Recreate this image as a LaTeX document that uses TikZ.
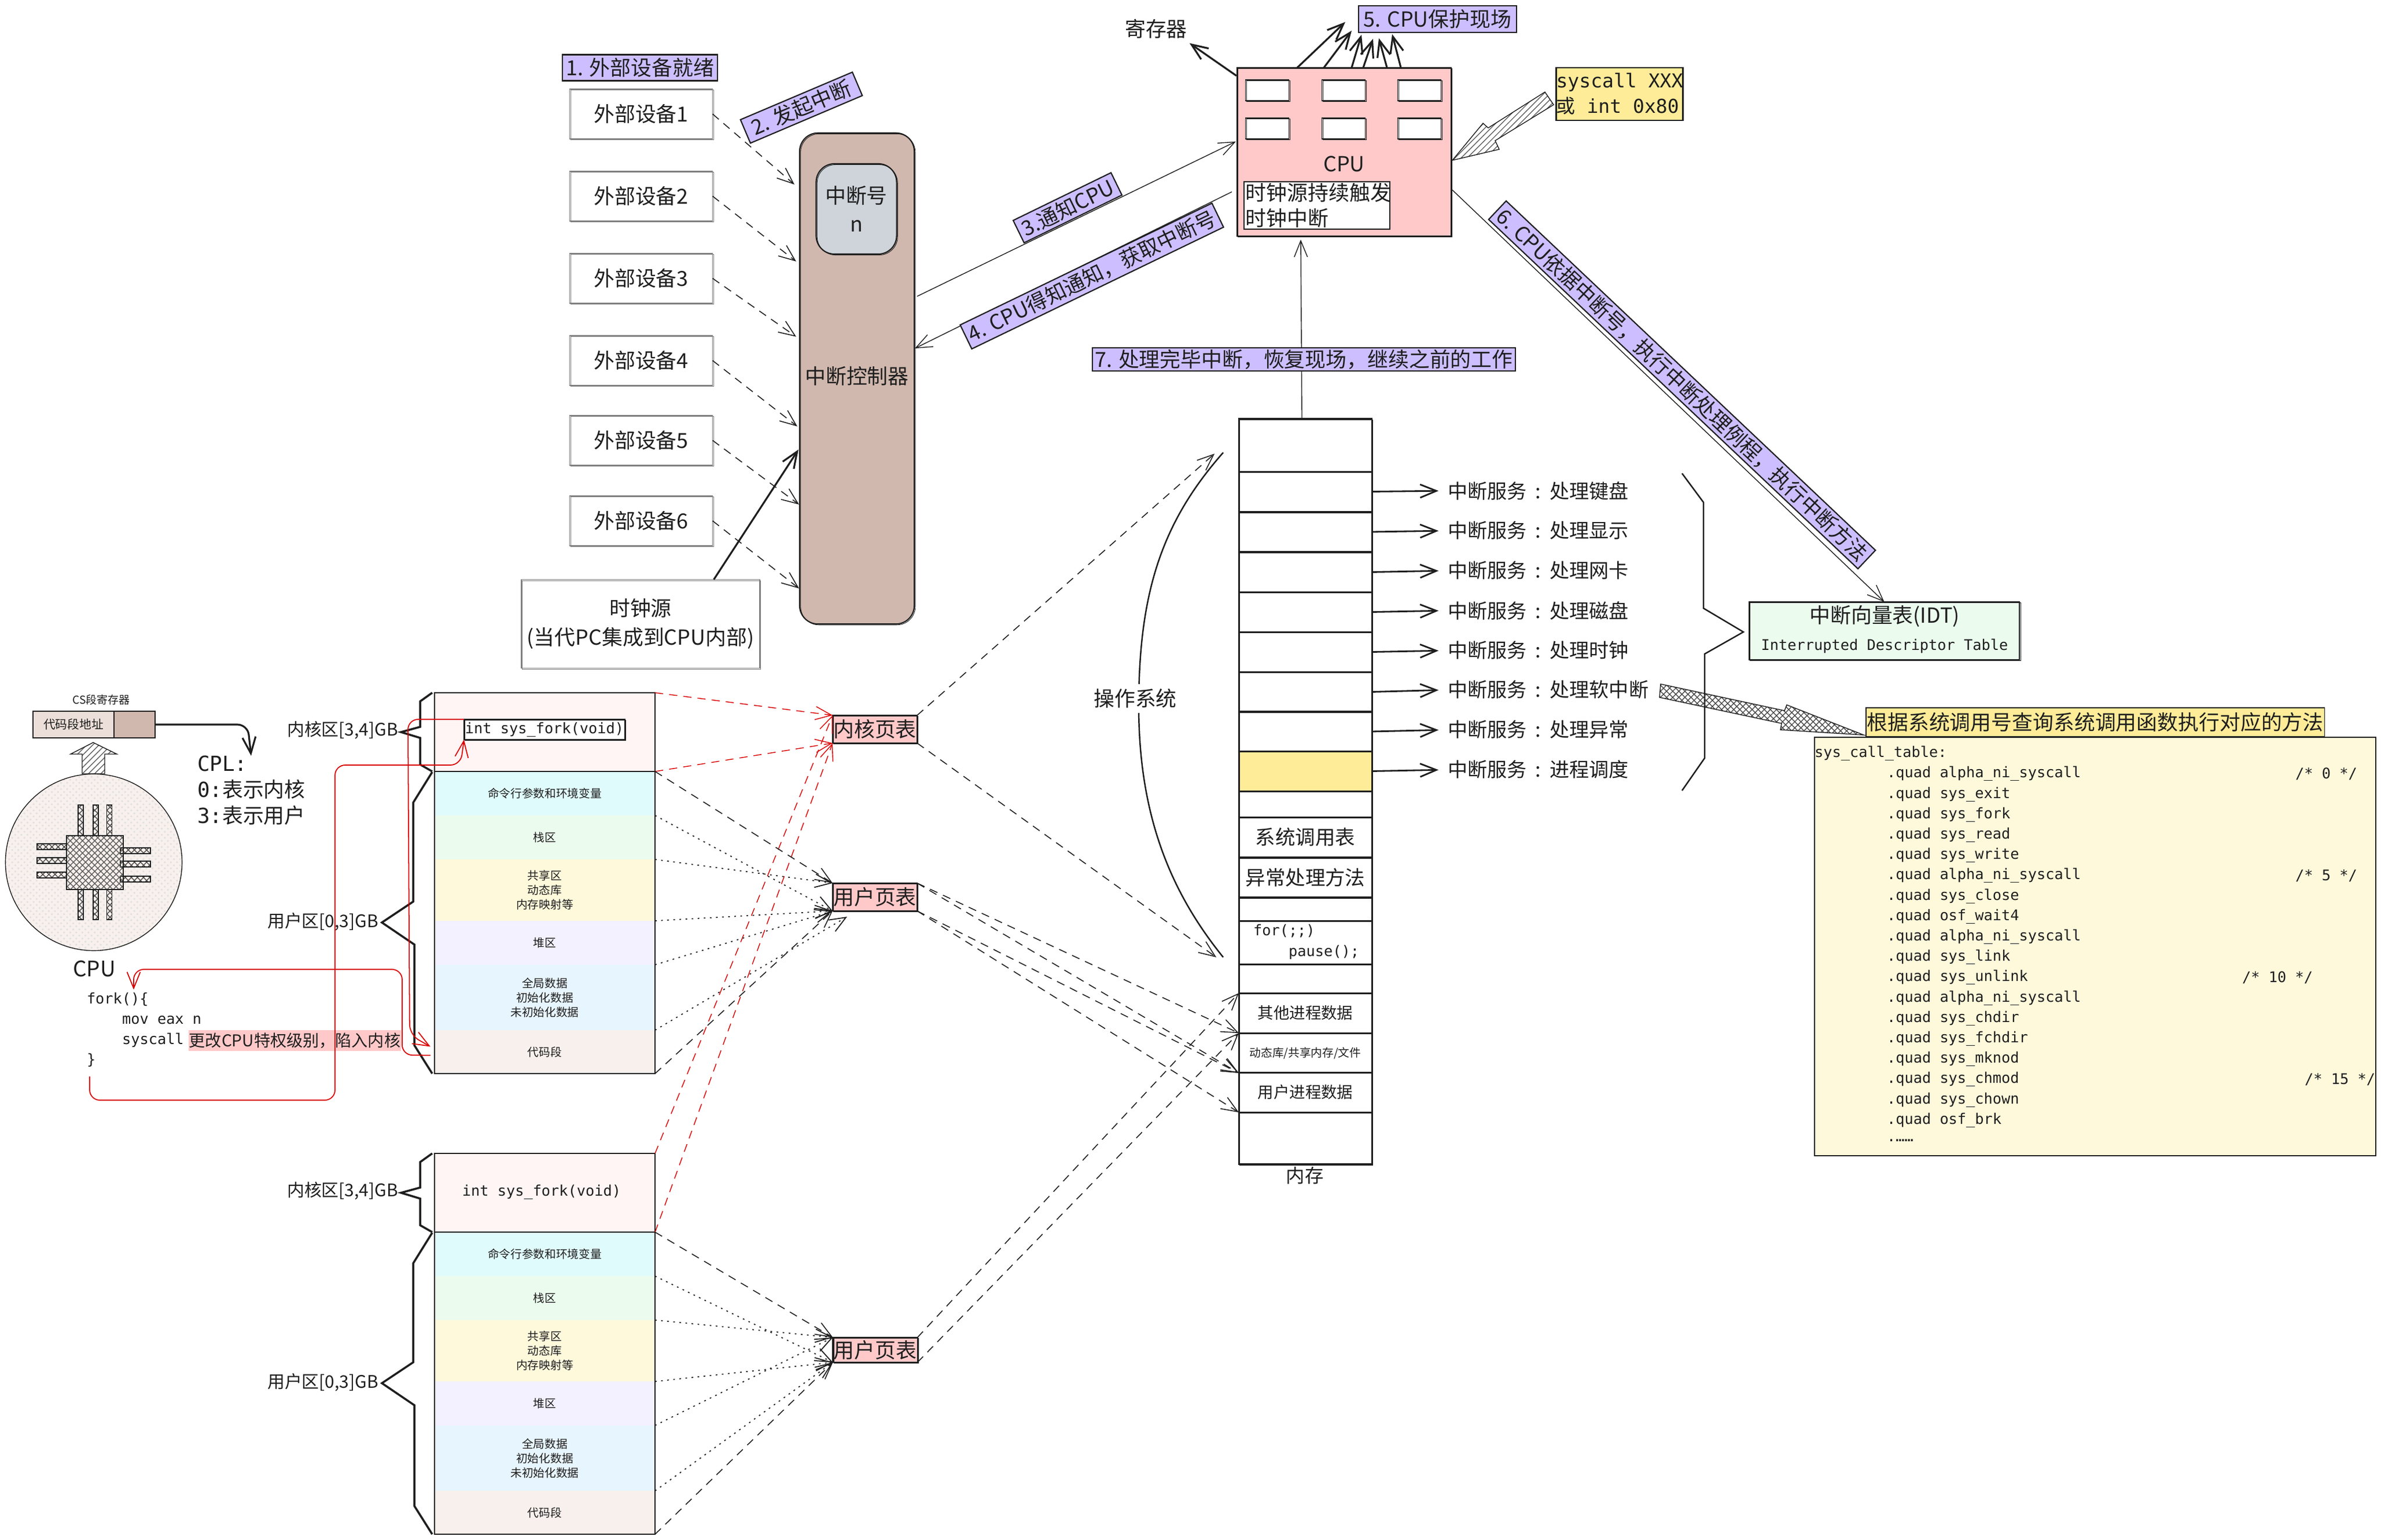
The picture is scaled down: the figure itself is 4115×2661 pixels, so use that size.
\documentclass[tikz,border=0pt]{standalone}
\usepackage{fontspec}
\setmainfont{Noto Sans CJK SC}
\setmonofont{DejaVu Sans Mono}
\usetikzlibrary{arrows.meta,patterns}
\definecolor{ink}{HTML}{1E1E1E}
\definecolor{violetbox}{HTML}{CDBFFF}
\definecolor{ctrlbrown}{HTML}{D0B8AE}
\definecolor{pinkbox}{HTML}{FFC9C9}
\definecolor{yellowbox}{HTML}{FFEC99}
\definecolor{kernc}{HTML}{FFF5F5}
\definecolor{argsc}{HTML}{E0FBFC}
\definecolor{stackc}{HTML}{EBFBEE}
\definecolor{sharec}{HTML}{FFF9DB}
\definecolor{heapc}{HTML}{F3F0FF}
\definecolor{datac}{HTML}{E7F5FF}
\definecolor{codec}{HTML}{F8F0EC}
\definecolor{irqgray}{HTML}{CED4DA}
\newcommand\fs[2]{\fontsize{#1}{#2}\selectfont}
\newcommand\zc{\char"FF0C\relax}
\tikzset{
	every node/.style={inner sep=0pt, outer sep=0pt, text=ink, font=\fs{10.2}{14}},
	sketch/.style={postaction={draw, line width=.25pt, transform canvas={shift={(.5pt,-.45pt)}}}},
	devbox/.style={draw=gray, line width=.4pt, fill=white, sketch, minimum width=2.47cm, minimum height=.86cm},
	notebox/.style={draw=ink, line width=.6pt, fill=violetbox},
	ptbox/.style={draw=ink, line width=.6pt, fill=pinkbox, sketch, minimum width=1.46cm, minimum height=.48cm},
	seg/.style={minimum width=3.81cm, font=\fs{5.6}{7.1}, align=center},
	slot/.style={draw=ink, line width=.6pt, fill=white, sketch, minimum width=2.3cm, minimum height=.69cm},
	code/.style={font=\ttfamily\fs{7.2}{10}, align=left},
	line/.style={draw=ink, line width=.7pt},
	bold/.style={draw=ink, line width=1pt},
	thinarrow/.style={draw=ink, line width=.4pt, ->},
	boldarrow/.style={draw=ink, line width=.9pt, ->},
	dasharrow/.style={draw=ink, line width=.45pt, dash pattern=on 4pt off 3pt, ->},
	dotarrow/.style={draw=ink, line width=.5pt, dash pattern=on .8pt off 2.2pt, ->},
	redarrow/.style={draw=red!85!black, line width=.4pt, dash pattern=on 4pt off 3pt, ->},
	redline/.style={draw=red!85!black, line width=.5pt, rounded corners=5pt, ->},
	hatch/.style={draw=ink, line width=.4pt, pattern=north east lines, pattern color=ink!70},
	xhatch/.style={draw=ink, line width=.4pt, pattern=crosshatch, pattern color=ink!80},
}
\begin{document}
\begin{tikzpicture}[x=.01cm, y=-.01cm, >={Straight Barb[length=8pt,width=6.5pt]}]
	\path[use as bounding box, fill=white] (0,0) rectangle (4115,2661);

	%devices
	\foreach \i/\y in {1/197,2/339,3/481,4/623,5/761,6/900}
	\node[devbox] (dev\i) at (1108,\y) {外部设备\i};
	\node[devbox, minimum width=4.12cm, minimum height=1.53cm, align=center] (clock) at (1107,1078) {时钟源\\(当代PC集成到CPU内部)};
	\node[notebox, minimum width=2.68cm, minimum height=.45cm] (note1) at (1106,117) {1. 外部设备就绪};
	\node[notebox, rotate=23, minimum width=2.1cm, minimum height=.44cm] (note2) at (1385,186) {2. 发起中断};

	%controller
	\node[draw=ink, line width=.6pt, fill=ctrlbrown, sketch, rounded corners=9pt, minimum width=1.98cm, minimum height=8.48cm] (ctrl) at (1481,654) {};
	\node (ctrltext) at (1481,650) {中断控制器};
	\node[draw=ink, line width=.6pt, fill=irqgray, sketch, rounded corners=9pt, minimum width=1.39cm, minimum height=1.56cm, align=center] (irq) at (1480,361) {中断号\\n};

	%device arrows
	\foreach \i/\sx/\sy in {1/-9/89,2/-6/222,3/-6/352,4/-4/507,5/-1/642,6/-1/787}
	\draw[dasharrow] (dev\i.east) -- ([shift={(\sx,\sy)}]ctrl.north west);
	\draw[boldarrow] ([xshift=36pt]clock.north) -- ([shift={(-2,547)}]ctrl.north west);

	%cpu
	\node[draw=ink, line width=.7pt, fill=pinkbox, sketch, minimum width=3.7cm, minimum height=2.91cm] (cpu) at (2323,262.5) {};
	\foreach \c/\x in {a/2190,b/2322,c/2453}
	\foreach \r/\y in {1/156,2/222}
	\node[draw=ink, line width=.5pt, fill=white, sketch, minimum width=.75cm, minimum height=.36cm] (reg\c\r) at (\x,\y) {};
	\node (cpulabel) at (2323,283) {CPU};
	\node[draw=ink, line width=.6pt, fill=white, minimum width=2.52cm, minimum height=.82cm, text width=2.46cm, align=left, font=\fs{10.2}{12.5}] (tick) at (2276,355) {时钟源持续触发\\时钟中断};
	\node (regs) at (1998,50) {寄存器};
	\node[notebox, minimum width=2.73cm, minimum height=.46cm] (note5) at (2484.5,33) {5. CPU保护现场};
	\draw[boldarrow] ([shift={(-1,14)}]cpu.north west) -- ([shift={(4,8)}]regs.south east);
	\foreach \sx/\ex/\ey in {104/2325/38,150/2336/53,198/2353/60,218/2373/67,259/2383/66,283/2406/59}
	\draw[boldarrow] ([xshift=\sx*.2845pt]cpu.north west) -- (\ex,\ey);

	%syscall
	\node[draw=ink, line width=.7pt, fill=yellowbox, minimum width=2.18cm, minimum height=.91cm, align=left, font=\ttfamily\fs{9.4}{12.5}] (syscall) at (2799,162.5) {syscall XXX\\{\rmfamily 或} int 0x80};
	\path[hatch] (2510,277) -- (2563,213) -- (2572,221) -- (2670,159) -- (2685,181) -- (2584,243) -- (2591,258) -- cycle;

	%controller and cpu
	\draw[thinarrow] ([shift={(5,-142)}]ctrl.east) -- ([shift={(-2,-18)}]cpu.west);
	\draw[thinarrow] ([shift={(-9,69)}]cpu.west) -- ([shift={(1,-52)}]ctrl.east);
	\node[notebox, rotate=26, minimum width=1.88cm, minimum height=.43cm] (note3) at (1845,359) {3.通知CPU};
	\node[notebox, rotate=25.8, minimum width=4.83cm, minimum height=.46cm] (note4) at (1887,477) {4. CPU得知通知\zc{}获取中断号};

	%memory
	\node[draw=ink, line width=.7pt, fill=white, sketch, minimum width=2.3cm, minimum height=12.87cm] (mem) at (2256,1367.5) {};
	\foreach \i/\y in {1/849.5,2/919,3/988.5,4/1057.5,5/1126.5,6/1195.5,7/1264}
	\node[slot] (slot\i) at (2256,\y) {};
	\node[slot, fill=yellowbox] (slot8) at (2256,1332.5) {};
	\node[slot, font=\fs{9.8}{12}] (table) at (2256,1446.5) {系统调用表};
	\node[slot, font=\fs{9.8}{12}] (fault) at (2256,1516) {异常处理方法};
	\node[slot, minimum height=.75cm, anchor=north] (idle) at (2256,1591) {};
	\node[code, anchor=north west, font=\ttfamily\fs{7.2}{10.2}] (idletext) at (2166,1597) {for(;;)\\\hspace*{.61cm}pause();};
	\node[slot, font=\fs{7.8}{10}] (others) at (2256,1750.5) {其他进程数据};
	\node[slot, font=\fs{5.6}{8}] (shared) at (2256,1819.5) {动态库/共享内存/文件};
	\node[slot, font=\fs{7.8}{10}] (userdata) at (2256,1887.5) {用户进程数据};
	\node[font=\fs{9.2}{12}] (memlabel) at (2255,2031) {内存};
	\draw[thinarrow] ([xshift=-1.7pt]mem.north) -- ([shift={(-75,6)}]cpu.south);
	\node[notebox, minimum width=7.31cm, minimum height=.4cm] (note7) at (2253.5,621) {7. 处理完毕中断\zc{}恢复现场\zc{}继续之前的工作};

	%services
	\foreach \i/\y/\what in {1/848/处理键盘,2/917/处理显示,3/986/处理网卡,4/1055/处理磁盘,5/1124/处理时钟,6/1192/处理软中断,7/1261/处理异常,8/1330/进程调度}{
		\node[anchor=west, font=\fs{9.7}{12}] (svc\i) at (2502,\y) {中断服务\hspace{.45em}:\hspace{.45em}\what};
		\draw[draw=ink, line width=.8pt, ->, shorten >=4.5pt] (slot\i.east) -- (svc\i.west);
	}
	\draw[line] (2907,818) -- (2944,868) -- (2944,1051) -- (3013,1092) -- (2946,1130) -- (2946,1310) -- (2907,1366);

	%idt
	\node[draw=ink, line width=.5pt, fill=stackc, sketch, minimum width=4.67cm, minimum height=1cm] (idt) at (3256.5,1090) {};
	\node (idttitle) at (3257,1065) {中断向量表(IDT)};
	\node[code] (idtsub) at (3257,1116) {Interrupted Descriptor Table};
	\draw[thinarrow] ([shift={(0,64)}]cpu.east) -- (idt.north);
	\node[notebox, rotate=-43.4, minimum width=8.78cm, minimum height=.44cm] (note6) at (2907,665) {6. CPU依据中断号\zc{}执行中断处理例程\zc{}执行中断方法};

	%syscall table
	\path[xhatch] (2870,1182) -- (3084,1228) -- (3088,1218) -- (3221,1270) -- (3077,1261) -- (3079,1250) -- (2868,1205) -- cycle;
	\node[draw=ink, line width=.4pt, fill=yellowbox, minimum width=7.92cm, minimum height=.5cm] (tablenote) at (3621,1248) {根据系统调用号查询系统调用函数执行对应的方法};
	\node[draw=ink, line width=.6pt, fill=sharec, minimum width=9.7cm, minimum height=7.23cm] (tablebox) at (3621,1635.5) {};
	\node[code, anchor=west] (q0) at (3136,1302) {sys\_call\_table:};
	\foreach \i/\sysname in {1/alpha\_ni\_syscall,2/sys\_exit,3/sys\_fork,4/sys\_read,5/sys\_write,6/alpha\_ni\_syscall,7/sys\_close,8/osf\_wait4,9/alpha\_ni\_syscall,10/sys\_link,11/sys\_unlink,12/alpha\_ni\_syscall,13/sys\_chdir,14/sys\_fchdir,15/sys\_mknod,16/sys\_chmod,17/sys\_chown,18/osf\_brk}
	\node[code, anchor=west] (q\i) at (3261,1302+35.2*\i) {.quad \sysname};
	\node[code, anchor=west] (q19) at (3261,1971) {.……};
	\node[code, anchor=west] (c0) at (3967,1337) {/* 0 */};
	\node[code, anchor=west] (c5) at (3967,1513) {/* 5 */};
	\node[code, anchor=west] (c10) at (3875,1689) {/* 10 */};
	\node[code, anchor=west] (c15) at (3983,1865) {/* 15 */};

	%address spaces
	\foreach \s/\dy in {a/0,b/796}{
		\begin{scope}[shift={(0,\dy)}]
		\foreach \seg/\yc/\hc/\col/\txt in {kern/1265/1.36/kernc/{},args/1371/.76/argsc/{命令行参数和环境变量},stack/1447/.76/stackc/{栈区},share/1538/1.06/sharec/{共享区\\动态库\\内存映射等},heap/1629/.76/heapc/{堆区},data/1723.5/1.13/datac/{全局数据\\初始化数据\\未初始化数据},code/1817.5/.75/codec/{代码段}}
		\node[seg, fill=\col, minimum height=\hc cm] (\s-\seg) at (941.5,\yc) {\txt};
		\draw[line, line width=.6pt] (\s-kern.north west) rectangle (\s-code.south east);
		\draw[line, line width=.6pt] (\s-kern.south west) -- (\s-kern.south east);
		\draw[bold] (747,1197) -- (726,1212) -- (726,1256) -- (693,1265) -- (726,1275) -- (726,1321) -- (747,1333);
		\draw[bold] (747,1334) -- (714,1387) -- (714,1558) -- (660,1594) -- (716,1632) -- (716,1806) -- (747,1855);
		\node[font=\fs{8.5}{11}] (\s-kernlabel) at (592,1262) {内核区[3,4]GB};
		\node[font=\fs{8.5}{11}] (\s-userlabel) at (558,1593) {用户区[0,3]GB};
		\end{scope}
	}
	\node[code, draw=ink, line width=.5pt, fill=white, sketch, minimum width=2.78cm, minimum height=.35cm, align=center] (forka) at (941,1260.5) {int sys\_fork(void)};
	\node[code, align=center] (forkb) at (936,2060) {int sys\_fork(void)};

	%page tables
	\node[ptbox] (kpt) at (1512,1260) {内核页表};
	\node[ptbox] (upt) at (1512,1550) {用户页表};
	\node[ptbox, minimum height=.43cm] (uptb) at (1512.5,2332.5) {用户页表};
	\coordinate (osTop) at (2099,784);
	\coordinate (osBot) at (2102,1654);
	\coordinate (uptEnd) at (1464,1584);

	%page table links
	\draw[redarrow] (a-kern.north east) -- (kpt.north west);
	\draw[redarrow] (a-kern.south east) -- (kpt.south west);
	\draw[redarrow] (b-kern.north east) -- (kpt.north west);
	\draw[redarrow] (b-kern.south east) -- (kpt.south west);
	\draw[dasharrow] (a-kern.south east) -- (upt.north west);
	\draw[dotarrow] (a-args.south east) -- (upt.south west);
	\draw[dotarrow] (a-stack.south east) -- (upt.north west);
	\draw[dotarrow] (a-share.south east) -- (upt.south west);
	\draw[dotarrow] (a-heap.south east) -- (upt.south west);
	\draw[dotarrow] (a-data.south east) -- (uptEnd);
	\draw[dasharrow] (a-code.south east) -- (upt.south west);
	\draw[dasharrow] (b-kern.south east) -- (uptb.north west);
	\draw[dotarrow] (b-args.south east) -- (uptb.south west);
	\draw[dotarrow] (b-stack.south east) -- (uptb.north west);
	\draw[dotarrow] (b-share.south east) -- (uptb.south west);
	\draw[dotarrow] (b-heap.south east) -- (uptb.north west);
	\draw[dotarrow] (b-data.south east) -- (uptb.south west);
	\draw[dasharrow] (b-code.south east) -- (uptb.south west);
	\draw[dasharrow] (kpt.north east) -- (osTop);
	\draw[dasharrow] (kpt.south east) -- (osBot);
	\draw[dasharrow] (upt.north east) -- (others.south west);
	\draw[dasharrow] (upt.north east) -- (shared.south west);
	\draw[dasharrow] (upt.south east) -- (shared.south west);
	\draw[dasharrow] (upt.south east) -- (userdata.south west);
	\draw[dasharrow] (uptb.north east) -- (others.north west);
	\draw[dasharrow] (uptb.south east) -- (others.south west);

	%os brace
	\draw[line] (2114,782) .. controls (2010,900) and (1968,1020) .. (1968,1220) .. controls (1968,1420) and (2030,1550) .. (2114,1654);
	\node[fill=white, minimum width=1.4cm, minimum height=.5cm] (os) at (1962,1207) {操作系统};

	%left cpu
	\node[circle, draw=ink, line width=.4pt, minimum size=3.05cm, preaction={fill=codec}, pattern=crosshatch dots, pattern color=gray!25] (chipzone) at (162,1490) {};
	\foreach \x in {139.5,165.5,189}{
		\path[xhatch] (\x-4.5,1391) rectangle (\x+4.5,1444);
		\path[xhatch] (\x-4.5,1537) rectangle (\x+4.5,1589);
	}
	\foreach \y in {1463,1487,1512}
	\path[xhatch] (64,\y-5) rectangle (115,\y+5);
	\foreach \y in {1470,1493,1519}
	\path[xhatch] (208,\y-5) rectangle (260,\y+5);
	\node[draw=ink, line width=.5pt, minimum width=.98cm, minimum height=.93cm, pattern=crosshatch, pattern color=ink!70] (chip) at (164,1490.5) {};
	\node[font=\fs{10.5}{13}] (cpucap) at (163,1674) {CPU};
	\path[hatch] (161,1283) -- (202,1303) -- (181,1303) -- (181,1337) -- (142,1337) -- (142,1303) -- (122,1303) -- cycle;
	\node[font=\fs{5.4}{7}] (cslabel) at (175,1209) {CS段寄存器};
	\node[draw=ink, line width=.5pt, fill=codec!70!ctrlbrown, minimum width=1.4cm, minimum height=.46cm, font=\fs{5.9}{7}] (csaddr) at (127,1252) {代码段地址};
	\node[draw=ink, line width=.5pt, fill=ctrlbrown, minimum width=.71cm, minimum height=.46cm] (cspriv) at (232.5,1252) {};
	\node[anchor=north west, align=left, font=\fs{10.2}{12.8}] (cpl) at (341,1306) {{\ttfamily CPL:}\\{\ttfamily 0:}表示内核\\{\ttfamily 3:}表示用户};
	\coordinate (cplIn) at (434,1306);
	\draw[boldarrow, rounded corners=5pt] (cspriv.east) -- (428,1252) -- (cplIn);

	%fork code
	\node[fill=pinkbox, minimum width=3.67cm, minimum height=.36cm, font=\fs{8}{10}] (trap) at (509.5,1798) {更改CPU特权级别\zc{}陷入内核};
	\node[code, anchor=north west, font=\ttfamily\fs{7.2}{10}] (fork) at (150,1715) {fork()\{\\\hspace*{.61cm}mov eax n\\\hspace*{.61cm}syscall\\\}};
	\coordinate (forkIn) at (231,1710);
	\coordinate (forkOut) at (155,1860);
	\draw[redline] ([shift={(-7,6)}]a-code.west) -- (695,1823) -- (695,1675) -- (231,1675) -- (forkIn);
	\draw[redline] (forkOut) -- (155,1901) -- (579,1901) -- (579,1322) -- (796,1322) -- (forka.south west);
	\draw[redline] (forka.north west) -- (705,1243) -- (708,1788) -- ([shift={(-7,-9)}]a-code.west);
\end{tikzpicture}
\end{document}
